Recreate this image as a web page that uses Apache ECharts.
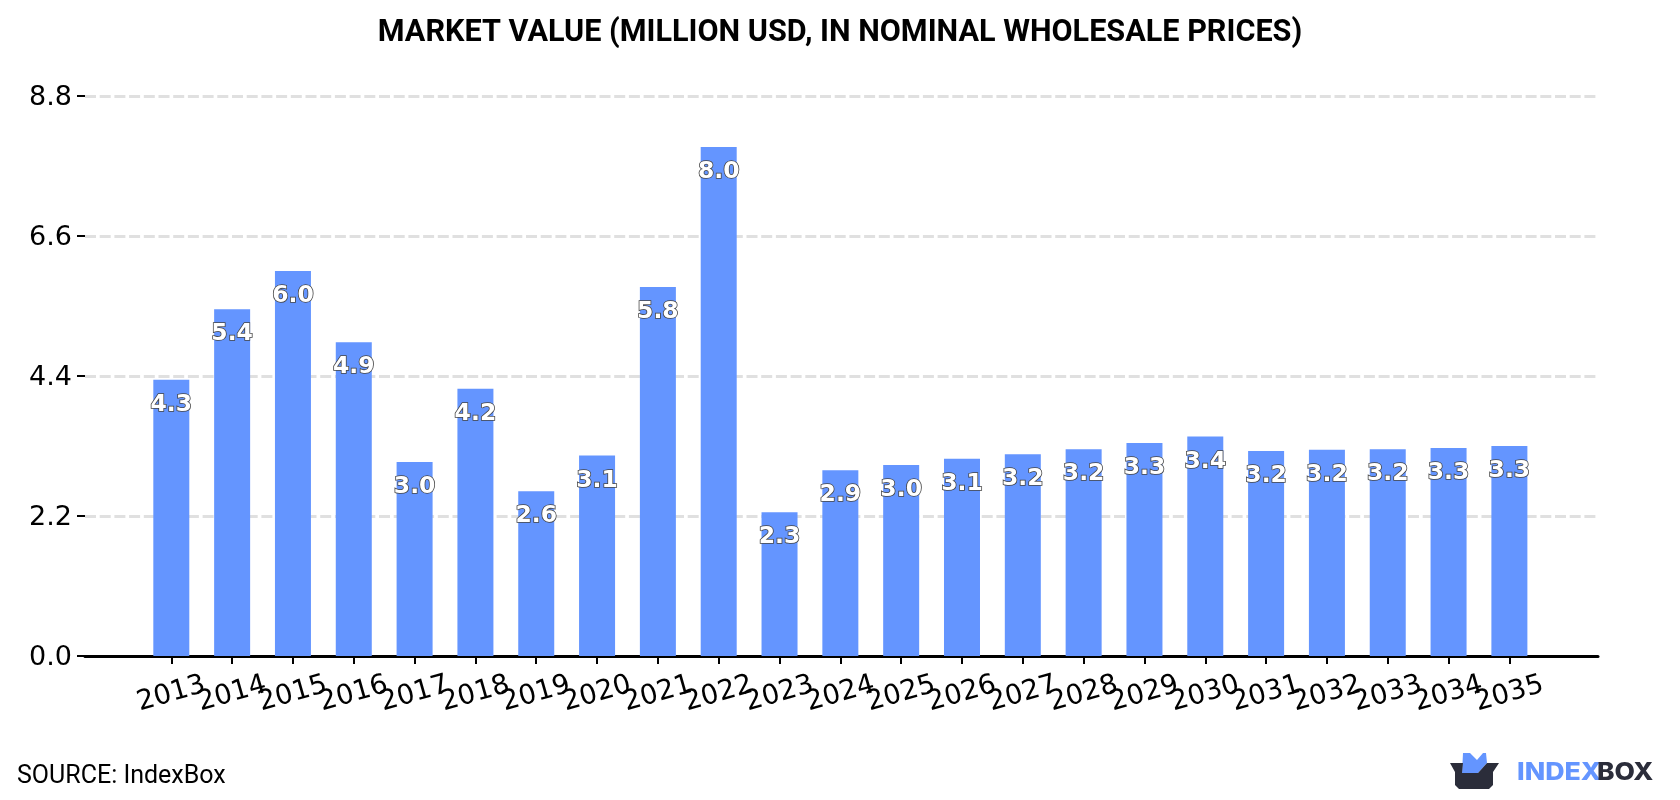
<!DOCTYPE html>
<html>
<head>
<meta charset="utf-8">
<style>html,body{margin:0;padding:0;background:#fff}#chart{width:1680px;height:800px}</style>
<script src="https://cdn.jsdelivr.net/npm/echarts@6/dist/echarts.min.js"></script>
</head>
<body>
<div id="chart"></div>
<script>
// Market value by year, actuals and forecast
const years = ['2013', '2014', '2015', '2016', '2017', '2018', '2019', '2020', '2021', '2022', '2023', '2024',
  '2025', '2026', '2027', '2028', '2029', '2030', '2031', '2032', '2033', '2034', '2035'];
const marketValue = [4.34, 5.449, 6.049, 4.93, 3.049, 4.20, 2.59, 3.149, 5.80, 8.00, 2.26, 2.92,
  3.00, 3.10, 3.17, 3.249, 3.349, 3.449, 3.22, 3.24, 3.249, 3.27, 3.30];
const yMax = 8.8;
const yStep = 2.2;
const titleText = 'MARKET VALUE (MILLION USD, IN NOMINAL WHOLESALE PRICES)';
const sourceText = 'SOURCE: IndexBox';

const BLUE = '#6495ff';
const INK = '#2b2d3a';

const chart = echarts.init(document.getElementById('chart'), null, { renderer: 'canvas' });
chart.setOption({
  animation: false,
  backgroundColor: '#fff',
  title: {
    text: titleText,
    left: 835,
    top: 13,
    textAlign: 'center',
    textStyle: { fontFamily: 'Roboto', fontWeight: 'bold', fontSize: 30.6, color: '#000' }
  },
  // The outer grid holds the gridlines and the long baseline; the inner one holds the bars,
  // so the baseline runs well past the first and last year.
  grid: [
    { left: 85, width: 1513, top: 96, height: 560 },
    { left: 140.9, width: 1398.9, top: 96, height: 560 }
  ],
  xAxis: [
    {
      gridIndex: 0,
      type: 'value',
      min: 0,
      max: 1,
      splitLine: { show: false },
      axisTick: { show: false },
      axisLabel: { show: false },
      axisLine: { show: true, lineStyle: { color: '#000', width: 3 } }
    },
    {
      gridIndex: 1,
      type: 'category',
      data: years,
      axisLine: { show: false },
      axisTick: { show: true, alignWithLabel: true, length: 8, lineStyle: { color: '#000', width: 2 } },
      axisLabel: {
        interval: 0,
        hideOverlap: false,
        rotate: 16,
        align: 'center',
        verticalAlign: 'middle',
        margin: 38,
        fontFamily: 'DejaVu Sans',
        fontSize: 27.5,
        color: '#000'
      }
    }
  ],
  yAxis: [
    {
      gridIndex: 0,
      type: 'value',
      min: 0,
      max: yMax,
      interval: yStep,
      axisLine: { show: false },
      axisTick: { show: true, length: 8, lineStyle: { color: '#000', width: 2 } },
      axisLabel: {
        formatter: v => v.toFixed(1),
        margin: 13,
        verticalAlign: 'top',
        lineHeight: 4,
        fontFamily: 'DejaVu Sans',
        fontSize: 27,
        color: '#000'
      },
      splitLine: {
        show: true,
        lineStyle: { color: '#e0e0e0', width: 2.8, type: [11, 3.7] }
      }
    },
    {
      gridIndex: 1,
      type: 'value',
      min: 0,
      max: yMax,
      interval: yStep,
      axisLine: { show: false },
      axisTick: { show: false },
      axisLabel: { show: false },
      splitLine: { show: false }
    }
  ],
  series: [{
    type: 'bar',
    xAxisIndex: 1,
    yAxisIndex: 1,
    barWidth: 36,
    data: marketValue,
    itemStyle: { color: BLUE },
    z: 3,
    label: {
      show: true,
      position: 'insideTop',
      distance: 13,
      formatter: p => p.value.toFixed(1),
      fontFamily: 'DejaVu Sans',
      fontWeight: 'bold',
      fontSize: 23.5,
      color: '#fff',
      textBorderColor: '#444',
      textBorderWidth: 1.6
    }
  }],
  graphic: [
    {
      type: 'text', x: 17, y: 764,
      style: { text: sourceText, font: '25px Roboto', fill: '#000' }
    },
    // logo: open box with the blue shape rising out of it
    {
      type: 'polygon', z: 5,
      shape: { points: [[1462, 773], [1463, 753], [1470, 753], [1477, 760], [1483, 753], [1486, 753], [1487, 763], [1478, 773]] },
      style: { fill: BLUE }
    },
    {
      type: 'polygon', z: 6,
      shape: { points: [[1450, 763], [1463, 763], [1462, 773], [1478, 773], [1487, 763], [1499, 763], [1493, 772], [1493, 785], [1489, 789], [1459, 789], [1455, 785], [1455, 772]] },
      style: { fill: INK }
    },
    {
      type: 'text', x: 1517, y: 761, scaleX: 1.115,
      style: { text: 'INDEX', font: '800 24px Inter', fill: BLUE }
    },
    {
      type: 'text', x: 1597, y: 761, scaleX: 1.1,
      style: { text: 'BOX', font: '800 24px Inter', fill: INK }
    }
  ]
});
</script>
</body>
</html>
